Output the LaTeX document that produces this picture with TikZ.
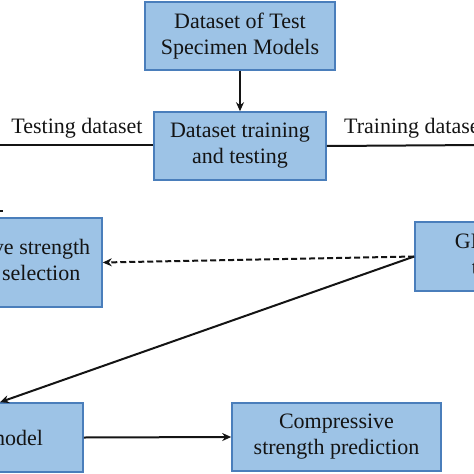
\documentclass[tikz,border=0pt]{standalone}
\usepackage{fontspec}
\setmainfont{Liberation Serif}
\usetikzlibrary{arrows.meta,calc}
\definecolor{boxfill}{HTML}{9DC3E6}
\definecolor{boxline}{HTML}{4A7EBB}
\definecolor{txt}{HTML}{141414}
\begin{document}
\begin{tikzpicture}[x=1pt,y=-1pt,
  box/.style={draw=boxline,line width=1.6pt,fill=boxfill,inner sep=0pt,align=center,
    text=txt,font=\fontsize{22}{26}\selectfont},
  conn/.style={line width=2pt,draw=txt},
  arr/.style={conn,-{Stealth[length=9pt,width=8pt]}},
  lbl/.style={text=txt,font=\fontsize{22}{26}\selectfont,inner sep=0pt}]
\useasboundingbox (0,0) rectangle (474,474);
\clip (0,0) rectangle (474,474);
\node[box,minimum width=190pt,minimum height=68pt] (b1) at (240,36) {Dataset of Test\\Specimen Models};
\node[box,minimum width=172pt,minimum height=68pt] (b2) at (240,146) {Dataset training\\and testing};
\node[box,minimum width=215pt,minimum height=89pt] (b3) at (-5.5,262.5) {Compressive strength\\parameter selection};
\node[box,minimum width=182pt,minimum height=69pt] (b4) at (506,256.5) {GEP model\\training};
\node[box,minimum width=182pt,minimum height=69pt] (b5) at (-8,437.5) {GEP model};
\node[box,minimum width=209pt,minimum height=68pt] (b6) at (336.5,437) {Compressive\\strength prediction};
\coordinate (lend) at (-10,145);
\coordinate (rend) at (484,145);
\coordinate (t1) at (-4,211);
\coordinate (t2) at (2.5,211);
\node[lbl,anchor=base] (lt) at (77,133) {Testing dataset};
\node[lbl,anchor=base west] (lr) at (344,133) {Training dataset};
\draw[arr] (b1.south) -- (b2.north);
\draw[conn] (b2.west |- 0,145) -- (lend);
\draw[conn] (b2.east |- 0,146) -- (rend);
\draw[conn] (t1) -- (t2);
\draw[arr,dash pattern=on 6pt off 3pt] (b4.west) -- (b3.east);
\draw[arr] (b4.west) -- ($(b5.north)+(8,0)$);
\draw[arr] (b5.east) -- (b6.west);
\end{tikzpicture}
\end{document}
